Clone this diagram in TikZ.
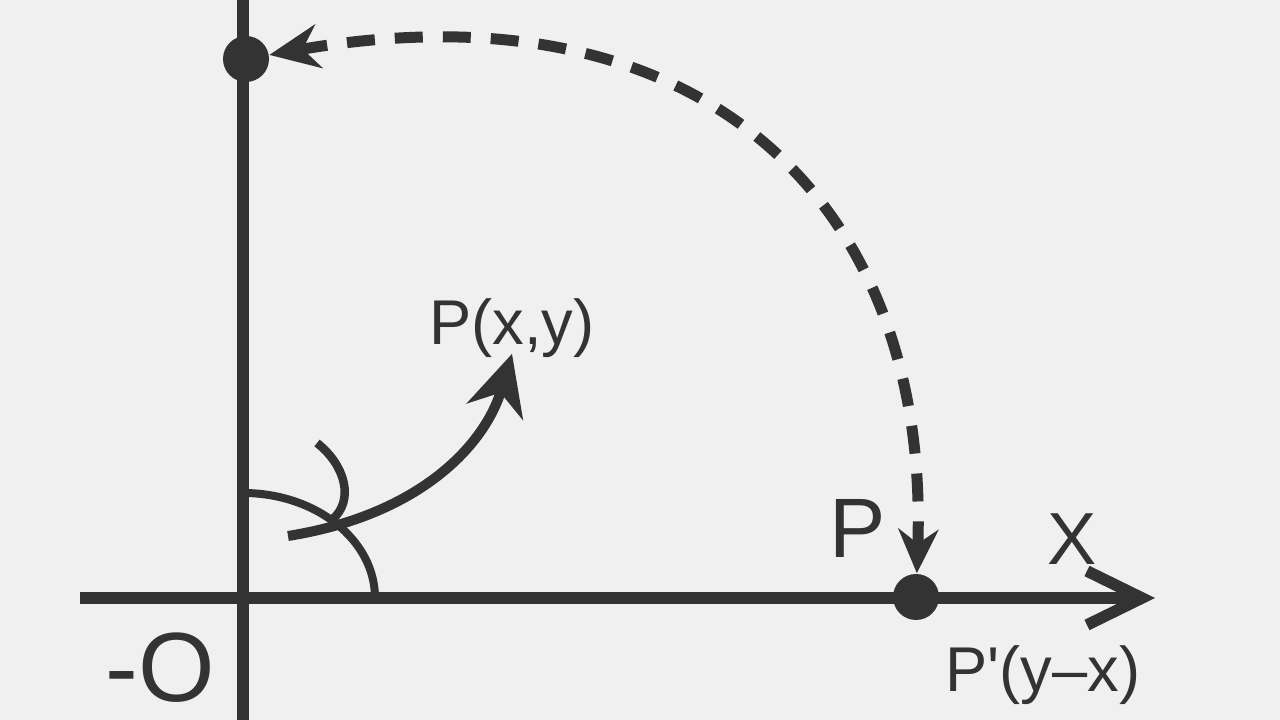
\documentclass[tikz,border=0pt]{standalone}
\usepackage{fontspec}
\setmainfont{Liberation Sans}
\usetikzlibrary{arrows.meta}
\definecolor{bgc}{HTML}{F0F0F0}
\definecolor{ink}{HTML}{333333}
\begin{document}
\begin{tikzpicture}[
  axis/.style={ink, line width=0.115cm},
  dot/.style={circle, fill=ink, inner sep=0pt, minimum size=0.46cm},
  lbl/.style={ink, inner sep=0pt, anchor=base}
]

\fill[bgc] (0,0) rectangle (12.8,7.2);
\useasboundingbox (0,0) rectangle (12.8,7.2);

\coordinate (O) at (2.43,1.22);
\coordinate (ybot) at (2.43,0);
\coordinate (ytop) at (2.43,7.2);
\coordinate (xl) at (0.8,1.22);
\coordinate (xr) at (11.55,1.22);
\draw[axis] (ybot) -- (ytop);
\draw[axis, -{Straight Barb[length=0.55cm, width=0.54cm]}] (xl) -- (xr);

\node[dot] (Q) at (2.46,6.61) {};
\node[dot] (Pp) at (9.16,1.23) {};

\draw[ink, line width=0.11cm, dash pattern=on 0.28cm off 0.2cm,
  {Stealth[length=0.5cm, width=0.44cm]}-{Stealth[length=0.44cm, width=0.4cm]}]
  (Q) .. controls (7.0,7.4) and (9.3,5.2) .. (Pp);

\draw[ink, line width=0.08cm] ([yshift=1.05cm]O) arc[start angle=90, end angle=0, x radius=1.32, y radius=1.05];
\draw[ink, line width=0.085cm] (3.17,2.77) .. controls (3.45,2.55) and (3.55,2.2) .. (3.32,2.0);

\node[lbl, font=\fontsize{18}{18}\selectfont] (pxy) at (5.12,3.75) {P(x,y)};
\coordinate (tail) at (2.88,1.84);
\draw[ink, line width=0.1cm, -{Stealth[length=0.6cm, width=0.58cm]}]
  (tail) .. controls (4.2,2.05) and (4.85,2.75) .. ([yshift=0.05cm]pxy.south);

\node[lbl, font=\fontsize{24}{24}\selectfont] (P) at (8.58,1.62) {P};
\node[lbl, font=\fontsize{21}{21}\selectfont] (X) at (10.72,1.55) {X};
\node[lbl, font=\fontsize{18}{18}\selectfont] (Pimg) at (10.43,0.28) {P\textquotesingle(y--x)};
\node[lbl, font=\fontsize{28}{28}\selectfont] (org) at (1.60,0.18) {-O};

\end{tikzpicture}
\end{document}
